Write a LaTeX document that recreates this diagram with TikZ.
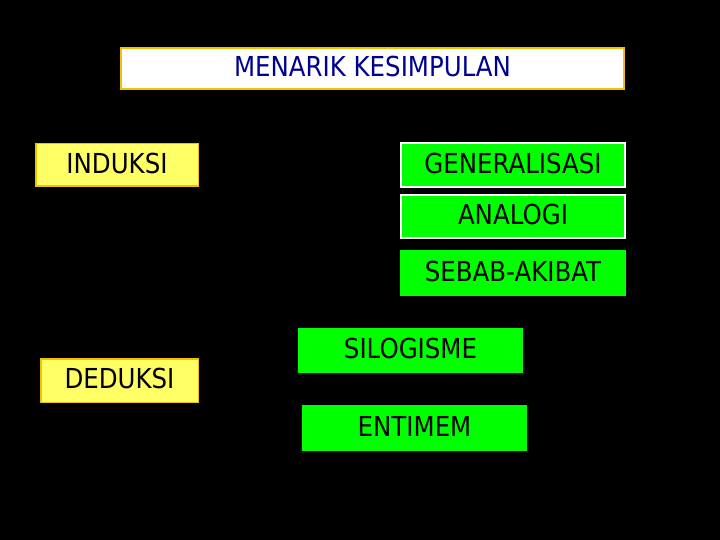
\documentclass[tikz,border=0pt]{standalone}
\usepackage{fontspec}
\setmainfont{DejaVu Sans}[FakeStretch=0.89]
\definecolor{gold}{HTML}{F2C200}
\definecolor{paleyellow}{HTML}{FFFF66}
\definecolor{brightgreen}{HTML}{00FF00}
\definecolor{navy}{HTML}{000090}
\tikzset{
  box/.style={rectangle, inner sep=0pt, text depth=4pt, font=\fontsize{27.5}{30}\selectfont},
  titlebox/.style={box, draw=gold, line width=2pt, fill=white, text=navy},
  mainbox/.style={box, draw=gold, line width=1.5pt, fill=paleyellow, text=black},
  subbox/.style={box, fill=brightgreen, text=black},
  framed/.style={draw=white, line width=2pt}
}
\begin{document}
\begin{tikzpicture}[x=1pt,y=-1pt]
\useasboundingbox (0,0) rectangle (720,540);
\fill[black] (0,0) rectangle (720,540);
\node[titlebox, minimum width=503pt, minimum height=41pt] (title) at (372.5,68.5) {MENARIK KESIMPULAN};
\node[mainbox, minimum width=162.5pt, minimum height=42.5pt] (induksi) at (117,165) {INDUKSI};
\node[mainbox, minimum width=157.5pt, minimum height=43.5pt] (deduksi) at (119.5,380.5) {DEDUKSI};
\node[subbox, framed, minimum width=224pt, minimum height=44pt] (generalisasi) at (513,165) {GENERALISASI};
\node[subbox, framed, minimum width=224pt, minimum height=43pt] (analogi) at (513,216.5) {ANALOGI};
\node[subbox, minimum width=226pt, minimum height=46pt] (sebab) at (513,273) {SEBAB-AKIBAT};
\node[subbox, minimum width=225pt, minimum height=45pt] (silogisme) at (410.5,350.5) {SILOGISME};
\node[subbox, minimum width=225pt, minimum height=46pt] (entimem) at (414.5,428) {ENTIMEM};
\end{tikzpicture}
\end{document}
